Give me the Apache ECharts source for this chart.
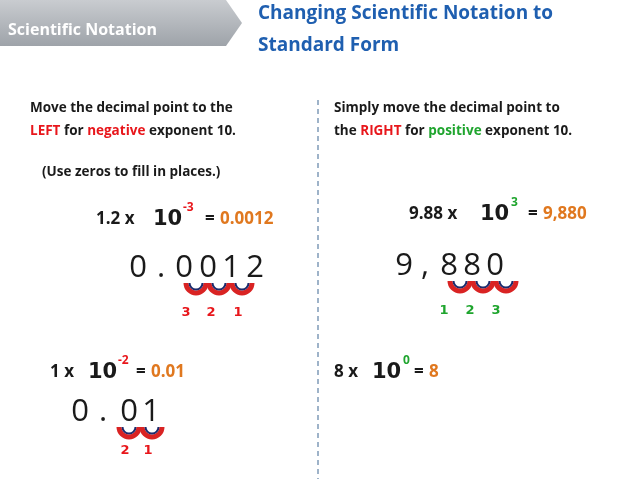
<!DOCTYPE html><html><head><meta charset="utf-8"><script src="https://cdn.jsdelivr.net/npm/echarts@6/dist/echarts.min.js"></script>
<style>html,body{margin:0;padding:0;background:#fff}#c{width:638px;height:479px}</style></head><body><div id="c"></div><script>
const header = "Scientific Notation";
const titleLines = ["Changing Scientific Notation to", "Standard Form"];
const leftRule = ["Move the decimal point to the", "LEFT for negative exponent 10."];
const rightRule = ["Simply move the decimal point to", "the RIGHT for positive exponent 10."];
const hint = "(Use zeros to fill in places.)";
const examples = [
  {coef:"1.2 x", exp:"-3", result:"0.0012", digits:["0",".","0","0","1","2"], hops:["3","2","1"]},
  {coef:"9.88 x", exp:"3", result:"9,880", digits:["9",",","8","8","0"], hops:["1","2","3"]},
  {coef:"1 x", exp:"-2", result:"0.01", digits:["0",".","0","1"], hops:["2","1"]},
  {coef:"8 x", exp:"0", result:"8", digits:[], hops:[]}
];
const F = "'Open Sans', 'Liberation Sans', sans-serif";
const RED="#E8161B", GREEN="#1FA52E", ORANGE="#E0781F", BLUE="#1F5FB0", DARK="#1a1a1a";
const rich = {
  n:{fontFamily:F,fontSize:13.5,fontWeight:'bold',fill:DARK},
  r:{fontFamily:F,fontSize:13.5,fontWeight:'bold',fill:RED},
  g:{fontFamily:F,fontSize:13.5,fontWeight:'bold',fill:GREEN}
};
const els = [];
els.push({type:'polygon',shape:{points:[[0,0],[226,0],[242,23],[226,46],[0,46]]},style:{fill:new echarts.graphic.LinearGradient(0,0,0,1,[{offset:0,color:'#c9ccd0'},{offset:1,color:'#9ea3a9'}])}});
els.push({type:'text',x:8,y:30,style:{text:header,font:"bold 16px "+F,fill:'#fff',textVerticalAlign:'middle'}});
titleLines.forEach((t,i)=>els.push({type:'text',x:258,y:14+i*32,style:{text:t,font:"bold 19px "+F,fill:BLUE,textVerticalAlign:'middle'}}));
els.push({type:'line',shape:{x1:318,y1:100,x2:318,y2:479},style:{stroke:'#7f9ab8',lineWidth:1.5,lineDash:[5,4]}});
function rt(x,y,text){els.push({type:'text',x,y,style:{text,rich,textVerticalAlign:'middle'}});}
rt(30,108,"{n|"+leftRule[0]+"}");
rt(30,131,"{r|LEFT}{n| for }{r|negative}{n| exponent 10.}");
rt(334,108,"{n|"+rightRule[0]+"}");
rt(334,131,"{n|the }{r|RIGHT}{n| for }{g|positive}{n| exponent 10.}");
rt(42,172,"{n|"+hint+"}");
function eq(y,ex,xs,expColor){
  els.push({type:'text',x:xs[0],y,style:{text:ex.coef,font:"bold 17px "+F,fill:DARK,textVerticalAlign:'middle'}});
  els.push({type:'text',x:xs[1],y:y+1,style:{text:"10",font:"900 21px 'DejaVu Sans', sans-serif",fill:DARK,textVerticalAlign:'middle'}});
  els.push({type:'text',x:xs[2],y:y-11,style:{text:ex.exp,font:"bold 12px "+F,fill:expColor,textVerticalAlign:'middle'}});
  els.push({type:'text',x:xs[3],y,style:{text:"=",font:"bold 17px "+F,fill:DARK,textVerticalAlign:'middle'}});
  els.push({type:'text',x:xs[4],y,style:{text:ex.result,font:"bold 17px "+F,fill:ORANGE,textVerticalAlign:'middle'}});
}
eq(219,examples[0],[96,153,183,205,220],RED);
eq(214,examples[1],[409,480,511,528,543],GREEN);
eq(372,examples[2],[50,88,118,136,151],RED);
eq(372,examples[3],[334,372,403,414,429],GREEN);
function big(xs,y,ex){ex.digits.forEach((d,i)=>els.push({type:'text',x:xs[i],y,style:{text:d,font:"31px "+F,fill:DARK,textAlign:'center',textVerticalAlign:'middle'}}));}
function arcs(cxs,cy,ex,lx,ly,col){
  cxs.forEach(cx=>{
    els.push({type:'arc',shape:{cx,cy,r:10,startAngle:0,endAngle:Math.PI},style:{stroke:'#d92323',lineWidth:5,fill:null}});
    els.push({type:'arc',shape:{cx,cy,r:6.5,startAngle:0,endAngle:Math.PI},style:{stroke:'#1c2a6b',lineWidth:2,fill:null}});
  });
  ex.hops.forEach((h,i)=>els.push({type:'text',x:lx[i],y:ly,style:{text:h,font:"900 13px 'DejaVu Sans', sans-serif",fill:col,textAlign:'center',textVerticalAlign:'middle'}}));
}
big([138,161,184,208,231,255],268,examples[0]);
arcs([196,219,242],283,examples[0],[186,211,238],313,RED);
big([404,425,449,472,495],266,examples[1]);
arcs([460,483,506],281,examples[1],[444,470,496],311,GREEN);
big([80,103,129,151],412,examples[2]);
arcs([129,152],427,examples[2],[125,148],451,RED);
echarts.init(document.getElementById('c')).setOption({animation:false,graphic:els});
</script></body></html>
